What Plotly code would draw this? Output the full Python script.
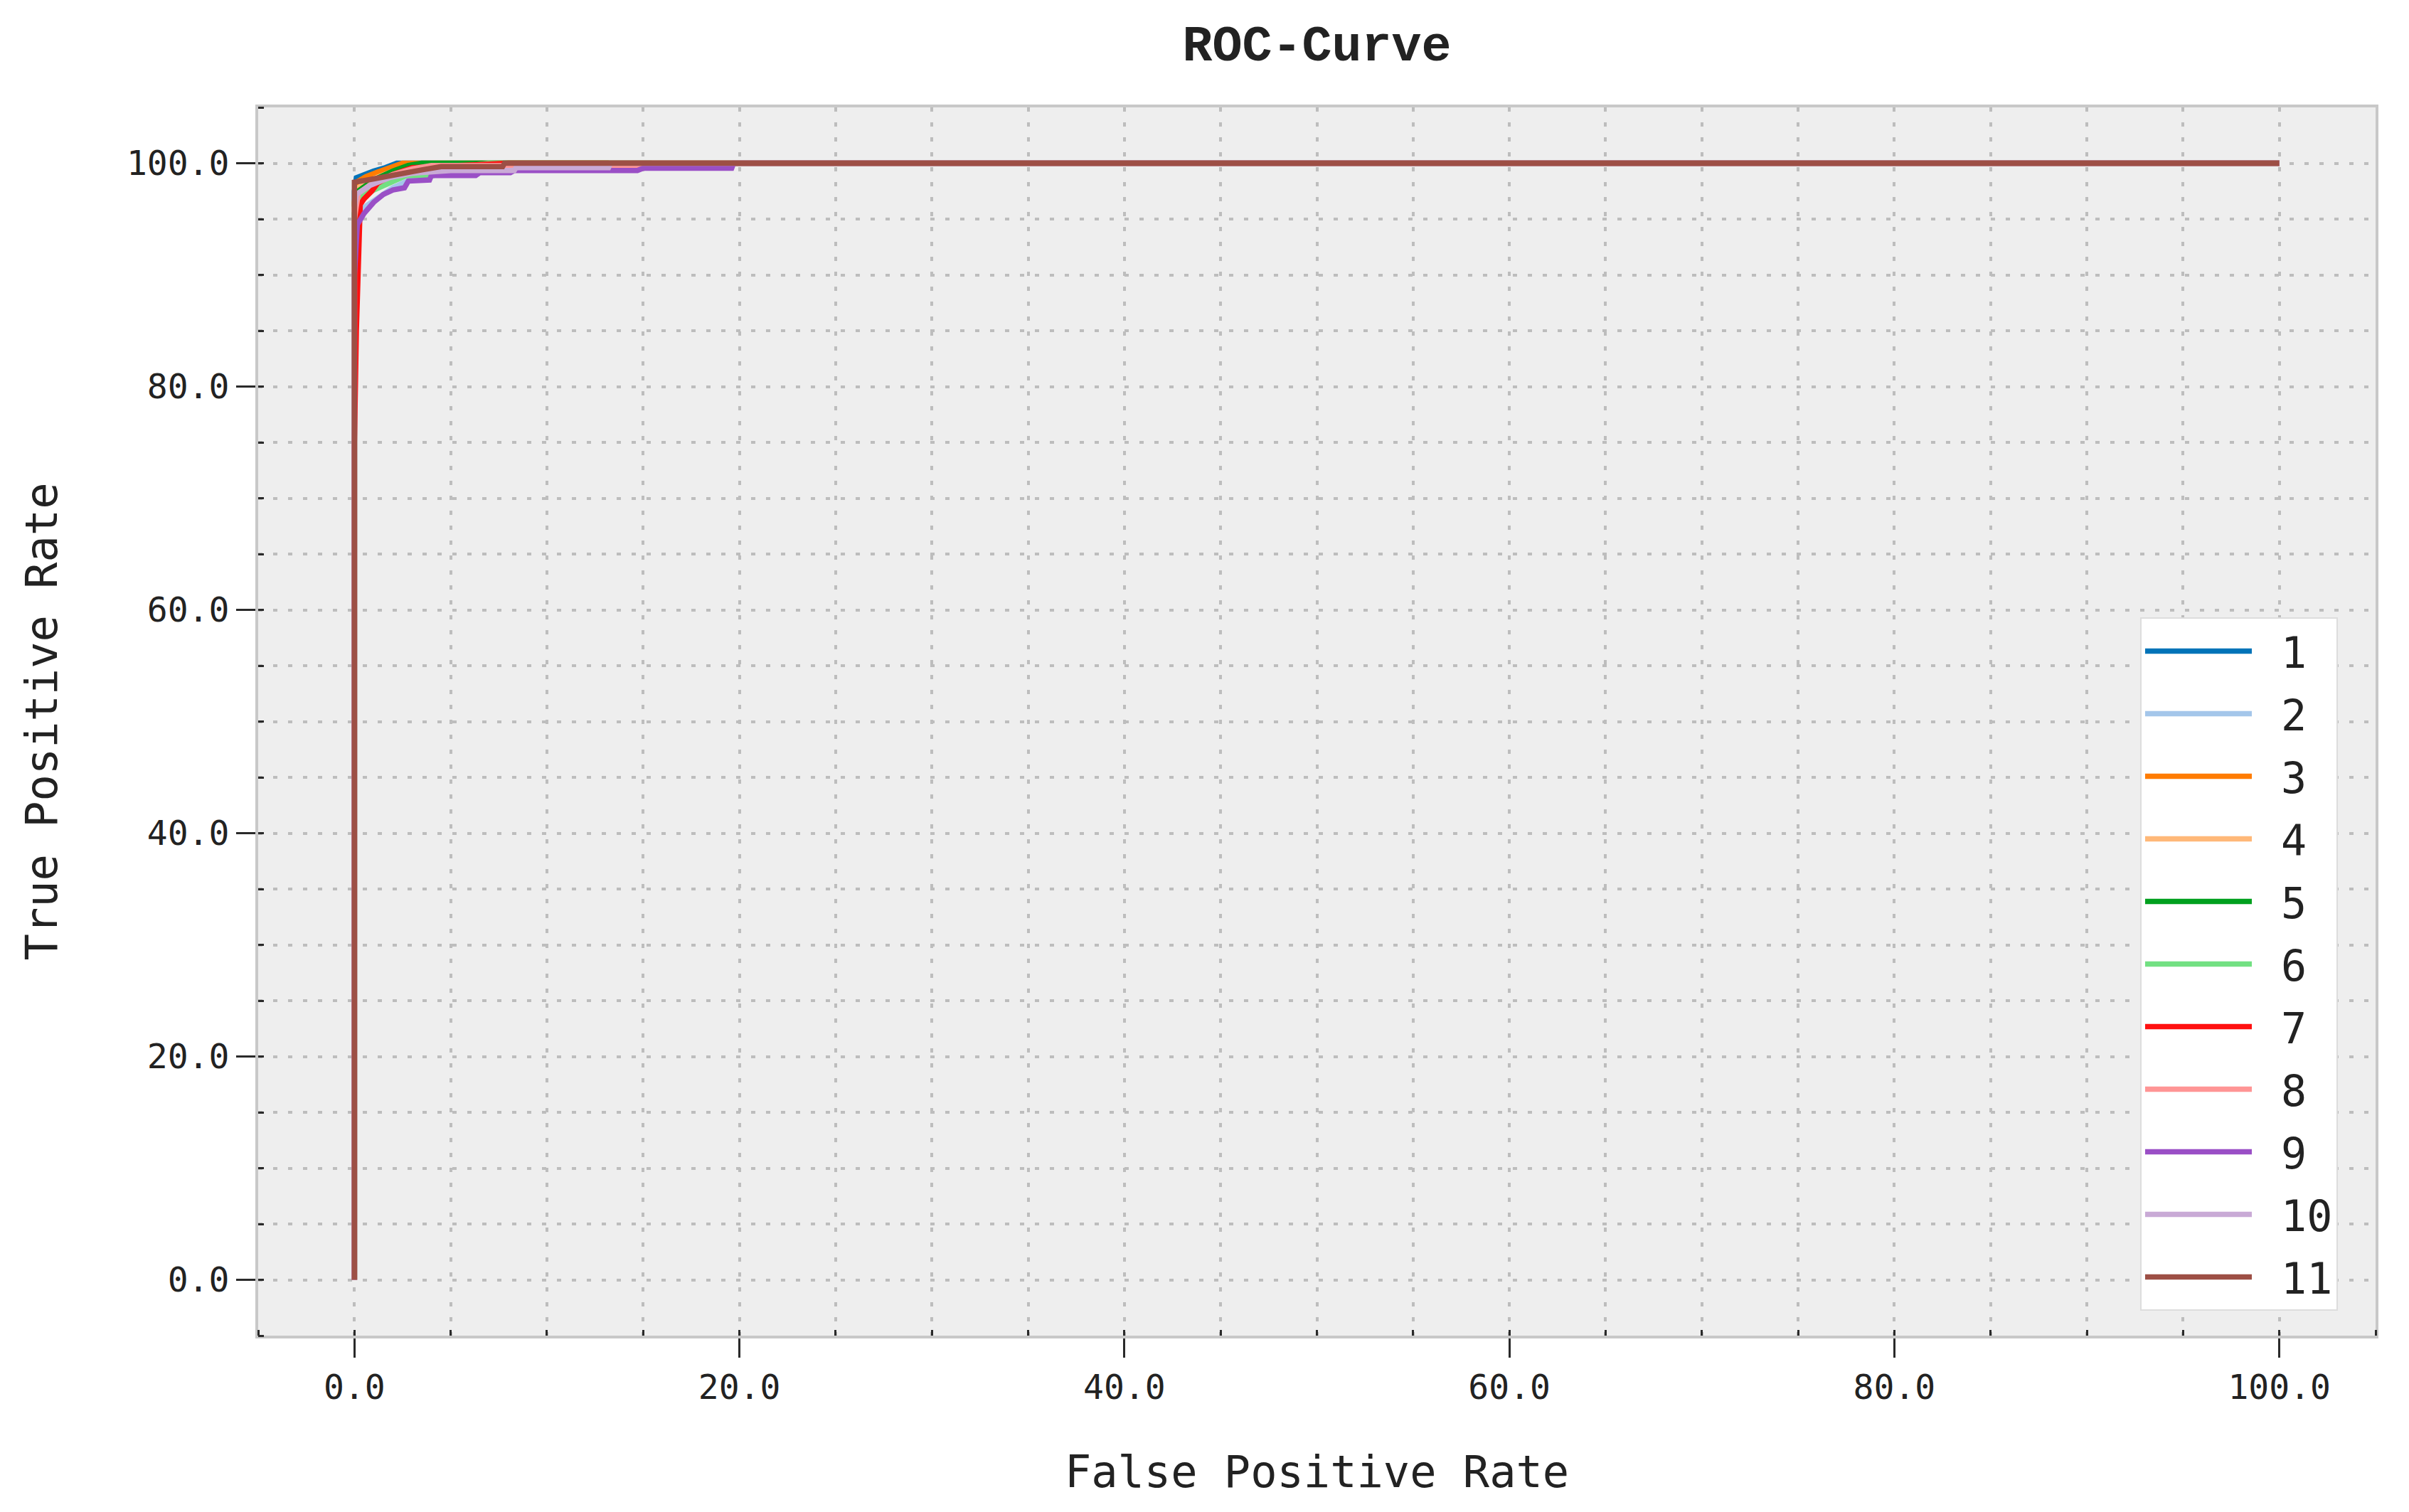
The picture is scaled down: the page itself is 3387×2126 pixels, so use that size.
import plotly.graph_objects as go

# ---- data (FPR / TPR in percent) ----
series_names = ["1", "2", "3", "4", "5", "6", "7", "8", "9", "10", "11"]

fpr_1 = [0, 0, 0.1, 0.5, 1.0, 1.6, 2.2, 100]
tpr_1 = [0, 97.5, 98.7, 99.0, 99.3, 99.6, 100, 100]

fpr_2 = [0, 0, 0.3, 0.8, 1.3, 2.0, 3.0, 5.0, 6.5, 10, 100]
tpr_2 = [0, 93, 95.8, 96.4, 97.0, 97.8, 98.6, 99.2, 99.4, 100, 100]

fpr_3 = [0, 0, 0.1, 0.6, 1.2, 2.0, 2.5, 100]
tpr_3 = [0, 96.5, 98.3, 98.8, 99.2, 99.7, 100, 100]

fpr_4 = [0, 0, 0.2, 1.0, 2.0, 3.2, 4.0, 100]
tpr_4 = [0, 96, 97.8, 98.6, 99.3, 99.7, 100, 100]

fpr_5 = [0, 0, 0.2, 1.0, 2.0, 2.8, 3.5, 100]
tpr_5 = [0, 95.5, 97.5, 98.5, 99.3, 99.8, 100, 100]

fpr_6 = [0, 0, 0.35, 1.0, 1.8, 2.7, 4.1, 4.4, 7.0, 100]
tpr_6 = [0, 94, 97.1, 97.6, 98.2, 98.9, 98.9, 99.4, 100, 100]

fpr_7 = [0, 0, 0.1, 0.25, 0.3, 0.5, 0.9, 1.2, 2.0, 3.0, 5.0, 8.0, 100]
tpr_7 = [0, 75, 85, 93, 96.3, 96.8, 97.5, 98.2, 99.0, 99.6, 99.8, 100, 100]

fpr_8 = [0, 0, 0.2, 1.0, 2.0, 3.0, 4.0, 15.4, 15.5, 100]
tpr_8 = [0, 95, 97.3, 98.3, 99.0, 99.5, 99.8, 99.8, 100, 100]

fpr_9 = [0, 0, 0.15, 0.5, 1.0, 1.5, 2.0, 2.6, 2.8, 3.9, 4.0, 6.3, 6.5, 8.1, 8.3,
         14.7, 15.0, 19.6, 19.7, 100]
tpr_9 = [0, 90, 94.5, 95.5, 96.5, 97.2, 97.6, 97.8, 98.4, 98.5, 98.9, 98.9, 99.15, 99.15, 99.35,
         99.35, 99.55, 99.55, 100, 100]

fpr_10 = [0, 0, 0.1, 0.8, 1.8, 3.0, 5.0, 8.3, 8.4, 13.2, 13.3, 100]
tpr_10 = [0, 96, 97.2, 98.0, 98.7, 99.1, 99.35, 99.35, 99.6, 99.6, 100, 100]

fpr_11 = [0, 0, 1.0, 2.5, 3.5, 4.5, 7.7, 7.8, 100]
tpr_11 = [0, 98.3, 98.6, 99.15, 99.4, 99.7, 99.7, 100, 100]

fpr_all = [fpr_1, fpr_2, fpr_3, fpr_4, fpr_5, fpr_6, fpr_7, fpr_8, fpr_9, fpr_10, fpr_11]
tpr_all = [tpr_1, tpr_2, tpr_3, tpr_4, tpr_5, tpr_6, tpr_7, tpr_8, tpr_9, tpr_10, tpr_11]

colors = ["#0173b8", "#a4c6ea", "#ff7c00", "#ffb878", "#00a01e", "#72e082",
          "#ff1010", "#ff9595", "#9a4fc6", "#c9aad6", "#9d4f45"]

tick_vals = [0, 20, 40, 60, 80, 100]

# ---- figure ----
# page body has an 8px margin; figure sized so the page fills the window exactly
W, H = 3371, 2110
fig = go.Figure()
for name, xs, ys, c in zip(series_names, fpr_all, tpr_all, colors):
    fig.add_trace(go.Scatter(
        x=xs, y=ys, mode="lines", name="\u00a0" + name, legendgroup=name,
        line=dict(color=c, width=7.5, shape="linear"),
    ))

mono = "DejaVu Sans Mono"
grid_color = "#bdbdbd"
grid_dash = "6px,15px"

axis_common = dict(
    range=[-5, 105],
    tickvals=tick_vals,
    tickformat=".1f",
    ticks="outside",
    ticklen=27,
    tickwidth=3,
    tickcolor="#2a2a2a",
    tickfont=dict(family=mono, size=48, color="#222222"),
    showgrid=True,
    gridcolor=grid_color,
    gridwidth=4,
    griddash=grid_dash,
    showline=True,
    linecolor="#c8c8c8",
    linewidth=4,
    mirror=True,
    zeroline=False,
    minor=dict(
        dtick=5,
        tick0=0,
        ticks="inside",
        ticklen=8,
        tickwidth=3,
        tickcolor="#2a2a2a",
        showgrid=True,
        gridcolor=grid_color,
        gridwidth=4,
        griddash=grid_dash,
    ),
)

fig.update_layout(
    width=W, height=H,
    paper_bgcolor="white",
    plot_bgcolor="#eeeeee",
    margin=dict(l=355, r=39, t=143, b=240, autoexpand=False),
    title=dict(
        text="<b>ROC-Curve</b>",
        font=dict(family="Courier New, Liberation Mono, monospace", size=70, color="#222222"),
        x=0.5, xref="paper", xanchor="center",
        y=1 - 52 / H, yref="container", yanchor="middle",
    ),
    xaxis=dict(
        **axis_common,
        title=dict(text="False Positive Rate",
                   font=dict(family=mono, size=62, color="#222222"),
                   standoff=72),
    ),
    yaxis=dict(
        **axis_common,
        title=dict(text="True Positive Rate",
                   font=dict(family=mono, size=62, color="#222222"),
                   standoff=78),
    ),
    legend=dict(
        x=(3001 - 355) / (3332 - 355), y=(1870 - 860) / (1870 - 143),
        xanchor="left", yanchor="top",
        bgcolor="white", bordercolor="#dddddd", borderwidth=2,
        font=dict(family=mono, size=60, color="#222222"),
        itemwidth=150,
        tracegroupgap=7,
        traceorder="grouped",
    ),
    showlegend=True,
)

fig.write_html("out.html")
